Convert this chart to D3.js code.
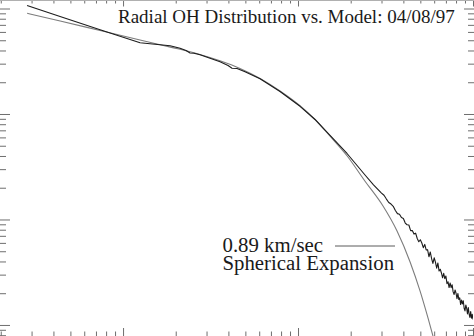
<!DOCTYPE html>
<html>
<head>
<meta charset="utf-8">
<script src="https://cdn.jsdelivr.net/npm/d3@7"></script>
<style>
  html, body { margin: 0; padding: 0; background: #fff; }
  svg { display: block; }
</style>
</head>
<body>
<svg id="chart" width="474" height="336"></svg>
<script>
// ---------- data ----------
const titleText = "Radial OH Distribution vs. Model: 04/08/97";
const legendLabels = ["0.89 km/sec", "Spherical Expansion"];

// model: 0.89 km/sec spherical expansion (gray)
const modelRadius = [2830, 4370, 7390, 12500, 16300, 21200, 27500, 35800, 46600, 60700,
  78900, 103000, 125000, 152000, 191000, 241000, 306000, 368000, 437000, 498000, 553000, 599000];
const modelValue = [0.9005, 0.7612, 0.6187, 0.5029, 0.4538, 0.4105, 0.3664, 0.3193, 0.2700, 0.2171,
  0.1652, 0.1191, 0.08869, 0.06187, 0.03999, 0.02317, 0.01342, 0.00778, 0.003956, 0.002101, 0.001165, 0.000721];

// observed radial OH distribution (black)
const dataRadius = [2828, 4365, 7389, 12508, 15236, 18557, 21172, 22909, 24147, 25446,
  27542, 31418, 35836, 39811, 41957, 44819, 49788, 60654, 78904, 102667,
  125080, 152370, 190546, 241470, 270000,
  300000, 310000, 320000, 330000, 340000, 350000, 360000, 370000, 380000, 390000,
  400000, 410000, 420000, 430000, 440000, 450000, 460000, 470000, 480000, 490000,
  500000, 510000, 520000, 530000, 540000, 550000, 560000, 570000, 580000, 590000,
  600000, 610000, 620000, 630000, 640000, 650000, 660000, 670000, 680000, 690000,
  700000, 710000, 720000, 730000, 740000, 750000, 760000, 770000, 780000, 790000,
  800000, 810000, 820000, 830000, 840000, 850000, 860000, 870000, 880000, 890000,
  900000, 910000, 920000, 930000, 940000, 950000, 960000, 970000, 980000, 990000, 1000000];
const dataValue = [1.0677, 0.8398, 0.6283, 0.4740, 0.4588, 0.4431, 0.4195, 0.3999, 0.3786, 0.3761,
  0.3640, 0.3372, 0.3125, 0.2882, 0.2718, 0.2700, 0.2512, 0.2157, 0.1634, 0.1183,
  0.08869, 0.06255, 0.04222, 0.02641, 0.02133,
  0.01779, 0.01696, 0.01561, 0.01449, 0.01400, 0.01334, 0.01217, 0.01137, 0.01123, 0.01042,
  0.01022, 0.009244, 0.008908, 0.008869, 0.007849, 0.007866, 0.007270, 0.007414, 0.006606, 0.006146,
  0.006421, 0.005987, 0.005405, 0.005807, 0.005140, 0.005174, 0.004431, 0.004918, 0.004251, 0.003836,
  0.004335, 0.003946, 0.003454, 0.003870, 0.003243, 0.003373, 0.003111, 0.002802, 0.003084, 0.002753,
  0.002908, 0.002463, 0.002568, 0.002262, 0.002501, 0.002257, 0.002405, 0.002059, 0.001946, 0.002147,
  0.001998, 0.001779, 0.001989, 0.001741, 0.001807, 0.001561, 0.001722, 0.001585, 0.001696, 0.001440,
  0.001360, 0.001547, 0.001440, 0.001274, 0.001465, 0.001269, 0.001178, 0.001340, 0.001158, 0.001263, 0.001127];

// ticks (no labels are printed in the figure)
const xMajorTicks = [1e4, 1e5, 1e6];
const xMinorTicks = [2e3, 3e3, 4e3, 5e3, 6e3, 7e3, 8e3, 9e3,
  2e4, 3e4, 4e4, 5e4, 6e4, 7e4, 8e4, 9e4,
  2e5, 3e5, 4e5, 5e5, 6e5, 7e5, 8e5, 9e5];
const yMajorTicks = [1, 0.1, 0.01, 0.001];
const yMinorTicks = [0.9, 0.8, 0.7, 0.6, 0.5, 0.4, 0.3, 0.2,
  0.09, 0.08, 0.07, 0.06, 0.05, 0.04, 0.03, 0.02,
  0.009, 0.008, 0.007, 0.006, 0.005, 0.004, 0.003, 0.002,
  0.0009, 0.0008];

// ---------- layout ----------
const W = 474, H = 336;
const pL = 0, pR = 473, pT = 0, pB = 336;

const x = d3.scaleLog().domain([1980, 1e6]).range([pL, pR]);
const y = d3.scaleLog().domain([0.000786, 1.204]).range([pB, pT]);

const svg = d3.select("#chart");
svg.append("rect").attr("width", W).attr("height", H).attr("fill", "#fff");

svg.append("defs").append("clipPath").attr("id", "plotClip")
  .append("rect").attr("x", pL).attr("y", pT).attr("width", pR - pL).attr("height", pB - pT);

const tickColor = "#6e6e6e";
function styleAxis(g) {
  g.select(".domain").remove();
  g.selectAll(".tick line").attr("stroke", tickColor).attr("stroke-width", 1);
  g.selectAll(".tick text").remove();
}

// left (ticks pointing inward)
svg.append("g").attr("transform", `translate(${pL},0)`)
  .call(d3.axisRight(y).tickValues(yMajorTicks).tickSize(10).tickFormat(""))
  .call(styleAxis);
svg.append("g").attr("transform", `translate(${pL},0)`)
  .call(d3.axisRight(y).tickValues(yMinorTicks).tickSize(6).tickFormat(""))
  .call(styleAxis);
// right
svg.append("g").attr("transform", `translate(${pR + 1},0)`)
  .call(d3.axisLeft(y).tickValues(yMajorTicks).tickSize(10).tickFormat(""))
  .call(styleAxis);
svg.append("g").attr("transform", `translate(${pR + 1},0)`)
  .call(d3.axisLeft(y).tickValues(yMinorTicks).tickSize(6).tickFormat(""))
  .call(styleAxis);
// bottom
svg.append("g").attr("transform", `translate(0,${pB})`)
  .call(d3.axisTop(x).tickValues(xMajorTicks).tickSize(8).tickFormat(""))
  .call(styleAxis);
svg.append("g").attr("transform", `translate(0,${pB})`)
  .call(d3.axisTop(x).tickValues(xMinorTicks).tickSize(4.5).tickFormat(""))
  .call(styleAxis);
// top
svg.append("g").attr("transform", `translate(0,${pT})`)
  .call(d3.axisBottom(x).tickValues(xMajorTicks).tickSize(6.5).tickFormat(""))
  .call(styleAxis);
svg.append("g").attr("transform", `translate(0,${pT})`)
  .call(d3.axisBottom(x).tickValues(xMinorTicks).tickSize(3.5).tickFormat(""))
  .call(styleAxis);

// top frame line
svg.append("line").attr("x1", pL).attr("x2", pR + 1).attr("y1", 0.5).attr("y2", 0.5)
  .attr("stroke", "#b0b0b0").attr("stroke-width", 1);

// ---------- curves ----------
const plot = svg.append("g").attr("clip-path", "url(#plotClip)");

const modelPts = modelRadius.map((r, i) => [r, modelValue[i]]);
const dataPts = dataRadius.map((r, i) => [r, dataValue[i]]);

const smoothLine = d3.line().x(d => x(d[0])).y(d => y(d[1])).curve(d3.curveMonotoneX);
const rawLine = d3.line().x(d => x(d[0])).y(d => y(d[1]));

plot.append("path").datum(modelPts).attr("d", smoothLine)
  .attr("fill", "none").attr("stroke", "#7c7c7c").attr("stroke-width", 1.1);

plot.append("path").datum(dataPts).attr("d", rawLine)
  .attr("fill", "none").attr("stroke", "#1c1c1c").attr("stroke-width", 1.1)
  .attr("stroke-linejoin", "round");

// ---------- text ----------
const serif = "'Liberation Serif', 'Times New Roman', Times, serif";
svg.append("text").attr("x", 118).attr("y", 23)
  .attr("font-family", serif).attr("font-size", 19).attr("fill", "#1a1a1a")
  .text(titleText);

// two-line legend label as one text block
const legendText = svg.append("text")
  .attr("font-family", serif).attr("font-size", 20.8).attr("fill", "#1a1a1a");
legendText.append("tspan").attr("x", 222.5).attr("y", 252).text(legendLabels[0]);
legendText.append("tspan").attr("x", 222.5).attr("y", 270.3).text(legendLabels[1]);

svg.append("line").attr("x1", 335).attr("x2", 395).attr("y1", 246).attr("y2", 246)
  .attr("stroke", "#5a5a5a").attr("stroke-width", 1);
</script>
</body>
</html>
